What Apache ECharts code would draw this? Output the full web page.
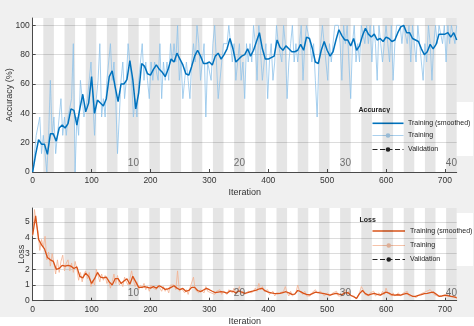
<!DOCTYPE html>
<html><head><meta charset="utf-8">
<script src="https://cdn.jsdelivr.net/npm/echarts@6/dist/echarts.min.js"></script>
<style>html,body{margin:0;padding:0;background:#f0f0f0}#c{width:474px;height:326px}</style>
</head><body><div id="c"></div><script>
const xTicks = [0,100,200,300,400,500,600,700];
const accTicks = [0,20,40,60,80,100];
const lossTicks = [0,1,2,3,4,5];
const epochLabels = [10,20,30,40];
const itersPerEpoch = 18;
const numEpochs = 40;
const rawStep = 3;     // raw values sampled every 3 iterations
const smoothStep = 5;  // smoothed values sampled every 5 iterations

const accRaw = [
0,12.5,25,25,37.5,12.5,25,12.5,0,25,
62.5,25,37.5,12.5,25,37.5,50,25,37.5,25,
37.5,37.5,50,87.5,0,37.5,25,62.5,62.5,37.5,
37.5,50,62.5,75,50,25,50,62.5,87.5,37.5,
50,37.5,62.5,75,87.5,62.5,75,50,12.5,37.5,
62.5,75,50,62.5,87.5,75,62.5,37.5,50,37.5,
62.5,75,87.5,62.5,75,62.5,50,75,62.5,75,
75,62.5,87.5,50,75,62.5,75,62.5,87.5,75,
87.5,75,100,62.5,75,50,62.5,75,62.5,50,
75,87.5,75,100,87.5,62.5,75,87.5,37.5,75,
75,62.5,87.5,100,75,50,62.5,75,87.5,87.5,
87.5,100,100,75,87.5,62.5,75,87.5,62.5,75,
50,87.5,75,87.5,75,100,87.5,62.5,100,100,
62.5,75,87.5,50,75,87.5,62.5,75,100,87.5,
87.5,75,100,87.5,50,75,87.5,100,75,87.5,
75,87.5,100,62.5,87.5,100,100,87.5,75,87.5,
62.5,37.5,75,87.5,100,87.5,75,62.5,87.5,75,
87.5,100,100,100,87.5,62.5,100,87.5,100,75,
50,87.5,100,75,87.5,75,100,100,87.5,100,
87.5,100,75,100,87.5,62.5,100,87.5,75,87.5,
100,87.5,75,100,62.5,87.5,100,100,100,87.5,
100,100,87.5,100,75,100,87.5,75,100,87.5,
75,62.5,87.5,75,100,87.5,62.5,87.5,100,87.5,
100,100,87.5,100,75,100,87.5,100,100,87.5,100];

const accSmooth = [
0,12,22,19,19,12,26,26,21,30,
32,30,33,43,42,32,43,53,41,47,
65,40,49,47,45,50,65,69,58,48,
60,60,63,76,63,43,54,74,72,67,
66,70,73,70,68,65,70,77,75,81,
77,73,67,66,72,79,83,79,74,74,
75,73,79,81,77,80,84,91,84,75,
77,79,80,84,79,83,89,95,84,77,
77,78,79,90,85,83,86,84,82,82,
83,87,83,92,91,84,75,74,83,89,
83,79,82,90,97,93,90,90,86,91,
83,86,93,98,94,92,94,90,91,89,
92,91,89,90,95,99,100,95,95,91,
90,89,84,80,82,87,84,87,94,94,
94,95,92,95,90];

const lossRaw = [
4.1,5.8,4.9,4.4,3.2,3.9,3.4,4.1,2.6,3.1,
2.2,3.0,2.4,1.7,2.6,1.8,2.5,2.9,1.9,2.4,
2.6,1.9,2.4,1.8,2.5,2.0,1.3,1.8,1.2,1.7,
1.9,1.4,1.8,0.9,1.3,1.0,2.0,1.6,1.2,1.7,
1.3,1.6,1.1,1.3,0.8,1.2,1.7,1.1,1.6,1.0,
1.2,0.9,1.5,1.2,1.0,1.4,1.9,1.3,0.9,1.2,
0.7,1.0,0.8,1.1,0.7,0.9,0.6,1.0,0.8,0.9,
0.7,1.0,1.1,0.6,0.9,0.6,0.8,0.5,1.0,0.9,
1.0,0.7,1.9,0.6,0.8,0.9,0.5,0.7,0.4,0.8,
0.9,1.5,0.7,0.6,0.5,0.7,0.8,0.5,0.9,0.6,
0.7,0.5,0.6,0.4,0.6,0.5,0.7,0.4,0.6,0.5,
0.4,0.7,0.6,0.5,0.8,0.4,0.5,0.9,0.4,0.6,
0.4,0.5,0.6,0.7,0.5,0.6,0.8,0.6,1.1,0.7,
0.9,0.6,0.5,0.7,0.4,0.5,0.6,0.3,0.5,0.4,
0.5,0.4,0.6,0.9,0.5,0.3,0.6,0.3,0.4,0.5,
1.0,0.6,0.5,0.4,0.6,0.3,0.4,0.3,0.5,0.6,
0.7,0.5,0.4,0.6,0.5,0.3,0.4,0.5,0.3,0.4,
0.5,0.4,0.6,0.3,0.4,0.3,0.5,0.7,0.4,0.6,
0.3,0.2,0.3,0.1,0.2,0.5,0.9,0.7,0.4,0.5,
0.3,0.5,0.4,0.6,0.3,0.4,0.5,0.3,0.6,0.4,
0.8,0.5,0.4,0.3,0.5,0.3,0.4,0.5,0.3,0.4,
0.5,0.4,0.6,0.3,0.2,0.3,0.4,0.2,0.3,0.4,
0.4,0.5,0.4,0.6,0.5,0.7,0.6,0.4,0.5,0.3,
0.2,0.3,0.4,0.3,0.4,0.3,0.2,0.3,0.2,0.3,0.1];

const lossSmooth = [
4.2,5.4,3.9,3.55,3.3,2.75,2.6,2.5,2.0,2.05,
2.25,2.2,2.25,2.2,2.05,2.15,1.55,1.45,1.75,1.55,
1.1,1.4,1.8,1.5,1.45,1.5,1.2,1.0,1.4,1.4,
1.1,1.25,1.4,1.05,1.55,1.2,0.85,0.85,0.9,0.85,
0.8,0.9,0.8,0.95,0.85,0.72,0.75,0.85,0.95,0.8,
0.7,0.78,0.6,0.65,0.85,0.85,0.65,0.58,0.68,0.78,
0.7,0.6,0.52,0.55,0.58,0.55,0.48,0.62,0.6,0.5,
0.62,0.55,0.47,0.52,0.58,0.62,0.68,0.75,0.78,0.62,
0.55,0.5,0.47,0.45,0.47,0.52,0.57,0.5,0.4,0.42,
0.65,0.58,0.47,0.4,0.37,0.45,0.55,0.52,0.48,0.45,
0.4,0.36,0.42,0.47,0.42,0.38,0.5,0.52,0.35,0.25,
0.15,0.45,0.65,0.45,0.36,0.42,0.47,0.4,0.36,0.45,
0.55,0.48,0.38,0.36,0.38,0.36,0.42,0.47,0.38,0.28,
0.28,0.34,0.38,0.45,0.47,0.52,0.55,0.42,0.28,0.3,
0.35,0.33,0.28,0.25,0.2];

const pairs = (arr, step) => arr.map((v, i) => [i * step, v]);
const bands = [];
for (let e = 2; e <= numEpochs; e += 2) {
  bands.push([{xAxis: (e - 1) * itersPerEpoch}, {xAxis: e * itersPerEpoch}]);
}
const epochCenters = (yv) => epochLabels.map(e => ({value: [(e - 0.5) * itersPerEpoch, yv], name: String(e)}));

const txt = '#333';
const axisCol = '#4a4a4a';
function xAx(gi) {
  return {
    type: 'value', gridIndex: gi, min: 0, max: 720,
    axisLine: {show: true, onZero: false, lineStyle: {color: axisCol, width: 1}},
    axisTick: {show: true, inside: true, length: 3, customValues: xTicks, lineStyle: {color: axisCol}},
    axisLabel: {customValues: xTicks, fontSize: 8.5, color: txt, margin: 4, fontFamily: 'Liberation Sans'},
    splitLine: {show: false},
    name: 'Iteration', nameLocation: 'middle', nameGap: 16, nameMoveOverlap: false,
    nameTextStyle: {fontSize: 9, color: txt, fontFamily: 'Liberation Sans'}
  };
}
function yAx(gi, max, interval, ticks, name, gap) {
  return {
    type: 'value', gridIndex: gi, min: 0, max: max, interval: interval,
    axisLine: {show: true, lineStyle: {color: axisCol, width: 1}},
    axisTick: {show: true, inside: true, length: 3, customValues: ticks, lineStyle: {color: axisCol}},
    axisLabel: {customValues: ticks, fontSize: 8.5, color: txt, margin: 3, fontFamily: 'Liberation Sans'},
    splitLine: {show: true, lineStyle: {color: '#dcdcdc', width: 1}},
    name: name, nameLocation: 'middle', nameGap: gap, nameMoveOverlap: false,
    nameTextStyle: {fontSize: 9, color: txt, fontFamily: 'Liberation Sans'}
  };
}

function legend(x, y, w, h, title, ys, lineX1, lineX2, textX, cSmooth, cRaw) {
  const cy = (lineX1 + lineX2) / 2;
  return [
    {type: 'rect', shape: {x: x, y: y, width: w, height: h}, style: {fill: '#ffffff'}},
    {type: 'text', x: x + 1.5, y: ys[0], style: {text: title, fontSize: 7, fontWeight: 'bold', fill: '#262626', fontFamily: 'Liberation Sans', verticalAlign: 'middle'}},
    {type: 'line', shape: {x1: lineX1, y1: ys[1], x2: lineX2, y2: ys[1]}, style: {stroke: cSmooth, lineWidth: 1.6}},
    {type: 'text', x: textX, y: ys[1], style: {text: 'Training (smoothed)', fontSize: 7, fill: '#262626', fontFamily: 'Liberation Sans', verticalAlign: 'middle'}},
    {type: 'line', shape: {x1: lineX1, y1: ys[2], x2: lineX2, y2: ys[2]}, style: {stroke: cRaw, lineWidth: 1}},
    {type: 'circle', shape: {cx: cy, cy: ys[2], r: 2.3}, style: {fill: cRaw}},
    {type: 'text', x: textX, y: ys[2], style: {text: 'Training', fontSize: 7, fill: '#262626', fontFamily: 'Liberation Sans', verticalAlign: 'middle'}},
    {type: 'line', shape: {x1: lineX1, y1: ys[3], x2: lineX2, y2: ys[3]}, style: {stroke: '#262626', lineWidth: 1, lineDash: [5, 2.5]}},
    {type: 'circle', shape: {cx: cy, cy: ys[3], r: 2.3}, style: {fill: '#262626'}},
    {type: 'text', x: textX, y: ys[3], style: {text: 'Validation', fontSize: 7, fill: '#262626', fontFamily: 'Liberation Sans', verticalAlign: 'middle'}}
  ];
}

const chart = echarts.init(document.getElementById('c'), null, {renderer: 'canvas'});
chart.setOption({
  backgroundColor: '#f0f0f0',
  animation: false,
  grid: [
    {left: 32.7, top: 18, width: 424, height: 154, show: true, backgroundColor: '#ffffff', borderWidth: 0, containLabel: false, outerBoundsMode: 'none'},
    {left: 32.7, top: 208, width: 424, height: 92.7, show: true, backgroundColor: '#ffffff', borderWidth: 0, containLabel: false, outerBoundsMode: 'none'}
  ],
  xAxis: [xAx(0), xAx(1)],
  yAxis: [yAx(0, 105, 20, accTicks, 'Accuracy (%)', 19), yAx(1, 5.9, 1, lossTicks, 'Loss', 7)],
  series: [
    {type: 'line', xAxisIndex: 0, yAxisIndex: 0, data: pairs(accRaw, rawStep), showSymbol: false,
     lineStyle: {color: '#8fc3ea', width: 0.8}, z: 2,
     markArea: {silent: true, itemStyle: {color: 'rgba(0,0,0,0.1)'}, data: bands}},
    {type: 'line', xAxisIndex: 0, yAxisIndex: 0, data: pairs(accSmooth, smoothStep), showSymbol: false,
     lineStyle: {color: '#0072BD', width: 1.5}, z: 3},
    {type: 'line', xAxisIndex: 1, yAxisIndex: 1, data: pairs(lossRaw, rawStep), showSymbol: false,
     lineStyle: {color: '#f4b190', width: 0.8}, z: 2,
     markArea: {silent: true, itemStyle: {color: 'rgba(0,0,0,0.1)'}, data: bands}},
    {type: 'line', xAxisIndex: 1, yAxisIndex: 1, data: pairs(lossSmooth, smoothStep), showSymbol: false,
     lineStyle: {color: '#D95319', width: 1.3}, z: 3},
    {type: 'scatter', xAxisIndex: 0, yAxisIndex: 0, data: epochCenters(6), symbolSize: 0, z: 4,
     label: {show: true, position: 'inside', formatter: p => p.name, fontSize: 10, color: '#4d4d4d', fontFamily: 'Liberation Sans'}},
    {type: 'scatter', xAxisIndex: 1, yAxisIndex: 1, data: epochCenters(0.47), symbolSize: 0, z: 4,
     label: {show: true, position: 'inside', formatter: p => p.name, fontSize: 10, color: '#4d4d4d', fontFamily: 'Liberation Sans'}}
  ],
  graphic: [
    {type: 'rect', z: -1, shape: {x: 0, y: 317, width: 474, height: 9}, style: {fill: '#ffffff'}},
    ...legend(357, 102, 116, 54, 'Accuracy', [110, 123.3, 135.5, 149.5], 372.5, 403.5, 408, '#0072BD', '#a9d0ee'),
    ...legend(358, 213, 115, 53, 'Loss', [220, 231, 245.5, 259.5], 372.5, 405, 410, '#D95319', '#f6c2a8')
  ]
});
</script></body></html>
